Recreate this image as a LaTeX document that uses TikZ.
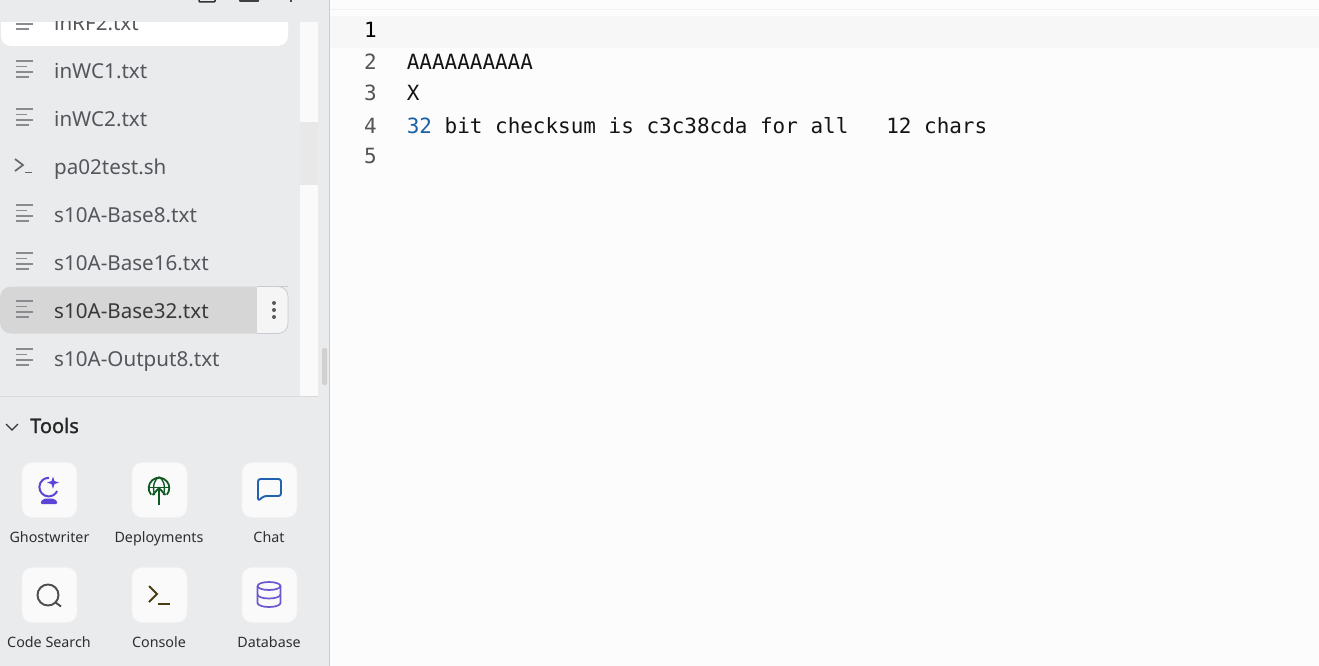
\documentclass[tikz,border=0pt]{standalone}
\usepackage{fontspec}
\setmainfont{Noto Sans}
\setmonofont{DejaVu Sans Mono}
\newfontfamily\toolfont[FakeBold=1.2]{Noto Sans}
\usetikzlibrary{positioning}
\definecolor{sidebg}{HTML}{EAEBED}
\definecolor{edgeline}{HTML}{C9CCD0}
\definecolor{rowgray}{HTML}{D6D6D6}
\definecolor{filetxt}{HTML}{55565B}
\definecolor{iconline}{HTML}{8A8B8E}
\definecolor{lineno}{HTML}{555555}
\definecolor{purp}{HTML}{5B45D6}
\definecolor{dbpurp}{HTML}{6A58D2}
\definecolor{depgreen}{HTML}{0F5A23}
\definecolor{chatblue}{HTML}{1F62B0}
\definecolor{consbrown}{HTML}{4A3D12}
\definecolor{numblue}{HTML}{1A5FA8}
\tikzset{
  filename/.style={anchor=base west,inner sep=0pt,font=\fontsize{20.6}{24}\selectfont,text=filetxt},
  toolname/.style={anchor=base,inner sep=0pt,font=\fontsize{14.3}{18}\selectfont,text=black!82},
  lineno/.style={anchor=base east,inner sep=0pt,font=\fontsize{20.96}{25}\ttfamily,text=lineno},
  codetxt/.style={anchor=base west,inner sep=0pt,font=\fontsize{20.96}{25}\ttfamily,text=black!92},
  tile/.style={fill=white!98!black,draw=black!5,line width=0.6pt,rounded corners=10pt},
  filelines/.pic={
    \draw [iconline,line width=1.9pt] (15.5,-9)--(33,-9) (15.5,-3.5)--(27,-3.5) (15.5,2)--(33,2) (15.5,7)--(29,7);
  }
}
\begin{document}
\begin{tikzpicture}[x=1pt,y=-1pt]
  \useasboundingbox (0,0) rectangle (1319,666);
  % panels
  \fill [white!99!black] (0,0) rectangle (1319,666);
  \fill [sidebg] (0,0) rectangle (329,666);
  \draw [edgeline,line width=1pt] (329.5,0)--(329.5,666);
  \draw [black!6,line width=1pt] (330,10)--(1319,10);
  \fill [black!3] (330,16) rectangle (1319,48);
  % scroll bars
  \fill [white!98!black] (300,22) rectangle (318,397);
  \fill [black!9] (300,122) rectangle (318,185);
  \fill [black!18,rounded corners=1.5pt] (322,348) rectangle (327,385);
  \draw [black!15,line width=1pt] (0,396.5)--(318,396.5);
  % open file
  \fill [white,rounded corners=10pt] (1,10)--(1,46)--(288,46)--(288,10)--cycle;
  \fill [sidebg] (0,0) rectangle (300,22);
  % bits of the toolbar, cut off at the top
  \draw [black!80,line width=1.5pt,rounded corners=1pt] (199,-3)--(199,2)--(215,2)--(215,-3);
  \fill [black!75,rounded corners=1pt] (239,-3) rectangle (259,2);
  \draw [black!70,line width=1.2pt] (291,0)--(291,2);
  \begin{scope}
    \clip (0,22) rectangle (300,60);
    \pic at (0,22) {filelines};
    \node [filename] (fileRF) at (54,31) {inRF2.txt};
  \end{scope}
  % hovered file
  \fill [rowgray,rounded corners=11pt] (0,286.5) rectangle (288,333.5);
  \fill [black!4,rounded corners=9pt] (270,286.5) rectangle (288,333.5);
  \fill [black!4] (257,287) rectangle (275,333);
  \draw [edgeline,line width=0.8pt,rounded corners=10pt] (257,286.5)--(278,286.5)--(288,286.5)--(288,333.5)--(257,333.5);
  \fill [black!65] (274,303) circle [radius=2] (274,310) circle [radius=2] (274,317) circle [radius=2];
  % files
  \pic at (0,70) {filelines};
  \node [filename] (fileWCa) at (54,79) {inWC1.txt};
  \pic at (0,118) {filelines};
  \node [filename] (fileWCb) at (54,127) {inWC2.txt};
  \draw [black!60,line width=1.7pt] (15,159)--(23,165)--(15,171);
  \draw [black!60,line width=1.7pt] (25,172.5)--(32,172.5);
  \node [filename] (fileTest) at (54,174) {pa02test.sh};
  \pic at (0,214) {filelines};
  \node [filename] (fileB8) at (54,222) {s10A-Base8.txt};
  \pic at (0,262) {filelines};
  \node [filename] (fileB16) at (54,270) {s10A-Base16.txt};
  \pic at (0,310) {filelines};
  \node [filename,text=black!78] (fileB32) at (54,318) {s10A-Base32.txt};
  \pic at (0,358) {filelines};
  \node [filename] (fileO8) at (54,366) {s10A-Output8.txt};
  % tools
  \draw [black!80,line width=1.1pt] (6,424)--(12,430)--(18,424);
  \node [anchor=base west,inner sep=0pt,font=\fontsize{20}{24}\toolfont,text=black!85] (tools) at (30,433) {Tools};
  \draw [tile] (22,462.5) rectangle (77,517.5);
  \draw [tile] (132,462.5) rectangle (187,517.5);
  \draw [tile] (242,462.5) rectangle (297,517.5);
  \draw [tile] (22,567.5) rectangle (77,622.5);
  \draw [tile] (132,567.5) rectangle (187,622.5);
  \draw [tile] (242,567.5) rectangle (297,622.5);
  \node [toolname] (ghost) at (49.5,542) {Ghostwriter};
  \node [toolname] (deploy) at (159,542) {Deployments};
  \node [toolname] (chat) at (269,542) {Chat};
  \node [toolname] (search) at (49,647) {Code Search};
  \node [toolname] (console) at (159,647) {Console};
  \node [toolname] (database) at (269,647) {Database};
  % ghostwriter icon
  \draw [purp,line width=2pt] (49,477.8) arc [start angle=-88,end angle=-335,radius=9.3];
  \fill [purp] (53,476.5)--(54.5,481)--(59,482.5)--(54.5,484)--(53,488.5)--(51.5,484)--(47,482.5)--(51.5,481)--cycle;
  \fill [purp,rounded corners=1pt] (41,504)--(41,501)--(45,498.5)--(53,498.5)--(57,501)--(57,504)--cycle;
  % deployments icon
  \draw [depgreen,line width=1.8pt] (151.1,494.6) arc [start angle=140,end angle=400,radius=10.3];
  \draw [depgreen,line width=1.4pt] (149,487.5)--(169,487.5);
  \draw [depgreen,line width=1.4pt] (154.5,495) .. controls (152,485) and (155,479) .. (159,477);
  \draw [depgreen,line width=1.4pt] (163.5,495) .. controls (166,485) and (163,479) .. (159,477);
  \draw [depgreen,line width=1.8pt] (159,504.5)--(159,488);
  \draw [depgreen,line width=1.8pt] (152.5,495)--(159,488)--(165.5,495);
  % chat icon
  \draw [chatblue,line width=1.9pt,line join=round,rounded corners=2.5pt] (258,501)--(258,479)--(281,479)--(281,496)--(264,496)--cycle;
  % search icon
  \draw [black!70,line width=1.9pt] (48,595) circle [radius=10.5];
  \draw [black!70,line width=1.9pt] (55.5,602.5)--(61,606.5);
  % console icon
  \draw [consbrown,line width=1.9pt] (149,586)--(157,594)--(149,602);
  \draw [consbrown,line width=1.9pt] (158,604)--(170,604);
  % database icon
  \draw [dbpurp,line width=1.7pt] (257.5,586) arc [start angle=180,end angle=-180,x radius=11.5,y radius=4];
  \draw [dbpurp,line width=1.7pt] (257.5,586)--(257.5,603) arc [start angle=180,end angle=0,x radius=11.5,y radius=4]--(280.5,586);
  \draw [dbpurp,line width=1.7pt] (257.5,594.5) arc [start angle=180,end angle=0,x radius=11.5,y radius=4];
  % editor
  \node [lineno,text=black] (lnA) at (377,38) {1};
  \node [lineno] (lnB) at (377,70) {2};
  \node [lineno] (lnC) at (377,101) {3};
  \node [lineno] (lnD) at (377,133) {4};
  \node [lineno] (lnE) at (377,164) {5};
  \node [codetxt] (codeB) at (406.6,70) {AAAAAAAAAA};
  \node [codetxt] (codeC) at (406.6,101) {X};
  \node [codetxt] (codeD) at (406.6,133) {\textcolor{numblue}{32} bit checksum is c3c38cda for all \ \ 12 chars};
\end{tikzpicture}
\end{document}
